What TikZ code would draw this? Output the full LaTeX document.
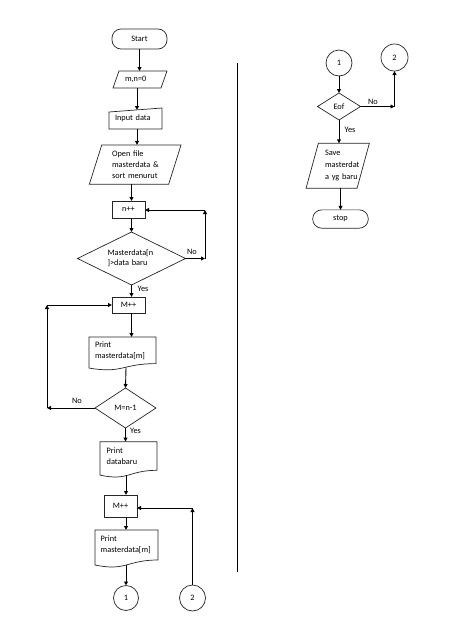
\documentclass[tikz,border=0pt]{standalone}
\usepackage{fontspec}
\setmainfont{Carlito}
\usetikzlibrary{calc,arrows.meta}
\newcommand\fsz{\fontsize{8.3}{11}\selectfont}
\newcommand\ind[1]{\hspace*{#1}}
% outlines drawn around geometry nodes
\newcommand\DocOutline[4]{\draw[shp] ($(#1.south west)+(0,#3)$) -- (#1.north west) -- (#1.north east) -- (#1.south east) .. controls ($(#1.south east)+(-#2/2,0)$) and ($(#1.south west)+(#2/2,#4)$) .. ($(#1.south west)+(0,#3)$) -- cycle;}
\newcommand\ParaOutline[2]{\draw[shp] ($(#1.north west)+(#2,0)$) -- (#1.north east) -- ($(#1.south east)+(-#2,0)$) -- (#1.south west) -- cycle;}
\newcommand\DiaOutline[1]{\draw[shp] (#1.north) -- (#1.east) -- (#1.south) -- (#1.west) -- cycle;}
\tikzset{
  base/.style={font=\fsz, inner sep=0pt, outer sep=0pt},
  shp/.style={line width=0.7pt, draw=black!85},
  geo/.style={base, text width=#1, align=left},
  boxnode/.style={base, shp, draw, rectangle},
  term/.style={base, shp, draw, rectangle, rounded corners=9pt},
  conn/.style={base, shp, draw, circle},
  arr/.style={line width=0.9pt, -{Triangle[length=4pt,width=3.8pt]}},
  lab/.style={base}
}
\begin{document}
\begin{tikzpicture}[x=1pt,y=-1pt]
\useasboundingbox[fill=white] (0,0) rectangle (453,640);
% column coordinates
\coordinate (k1) at (137,0);
\coordinate (k2) at (131.5,0);
\coordinate (k3) at (126,0);
% left column
\node[term, minimum width=55pt, minimum height=20pt] (start) at (139.5,39) {Start};
\node[geo=54pt, minimum height=17pt] (mn) at (140,79.5) {\ind{12pt}m,n=0};
\ParaOutline{mn}{6}
\node[geo=53pt, minimum height=21pt] (inp) at (135.5,118.5) {\ind{6pt}Input data};
\draw[shp] (inp.south west) -- ($(inp.north west)+(0,4)$) -- (inp.north east) -- (inp.south east) -- cycle;
\node[geo=91.7pt, minimum height=39.3pt] (open) at (135.2,164.6) {\ind{22.7pt}Open file\\\ind{22.7pt}masterdata \&\\\ind{22.7pt}sort menurut};
\ParaOutline{open}{12.4}
\node[boxnode, minimum width=33pt, minimum height=17pt] (nn) at (128.5,209.5) {n++};
\node[geo=108pt, minimum height=53pt, font=\fontsize{8.3}{10}\selectfont] (d1) at (131.5,258.5) {\ind{30pt}Masterdata[n\\\ind{30pt}]>data baru};
\DiaOutline{d1}
\node[boxnode, minimum width=33pt, minimum height=16pt] (mp1) at (128.5,305) {M++};
\node[geo=67pt, minimum height=26.6pt] (doc1) at (122.5,350.3) {\ind{6pt}Print\\\ind{6pt}masterdata[m]};
\DocOutline{doc1}{67}{4.45}{10.2}
\node[base, minimum width=61pt, minimum height=40pt] (d2) at (125.5,408) {M=n-1};
\DiaOutline{d2}
\node[geo=57pt, minimum height=28.6pt] (doc2) at (128.5,456) {\ind{6.7pt}Print\\\ind{6.7pt}databaru};
\DocOutline{doc2}{57}{4.8}{11}
\node[boxnode, minimum width=33pt, minimum height=22pt] (mp2) at (120.5,506) {M++};
\node[geo=63pt, minimum height=30pt] (doc3) at (126.5,545) {\ind{5.7pt}Print\\\ind{5.7pt}masterdata[m]};
\DocOutline{doc3}{63}{5}{11.5}
\node[conn, minimum size=25pt] (c1) at (126,598) {1};
\node[conn, minimum size=26pt] (c2) at (192.5,598) {2};
% divider
\draw[line width=0.9pt] (237,63) -- (237,572);
% right column
\node[conn, minimum size=26pt] (r1) at (339,63) {1};
\node[conn, minimum size=27pt] (r2) at (394.5,57.5) {2};
\node[base, minimum width=43pt, minimum height=27pt] (e) at (339,106.5) {Eof};
\DiaOutline{e}
\node[geo=63.3pt, minimum height=45pt, font=\fontsize{8.3}{12}\selectfont] (save) at (337.7,165.8) {\ind{19pt}Save\\\ind{19pt}masterdat\\\ind{19pt}a yg baru};
\ParaOutline{save}{12.3}
\node[term, minimum width=55.6pt, minimum height=18.3pt] (stop) at (340.5,219) {stop};
% labels
\node[lab] (no1) at (192,252) {No};
\node[lab] (yes1) at (143,288.5) {Yes};
\node[lab] (no2) at (77,401) {No};
\node[lab] (yes2) at (135.5,430.5) {Yes};
\node[lab] (no3) at (373,102) {No};
\node[lab] (yes3) at (350,129.5) {Yes};
% connectors left column
\draw[arr] (start.south) -- (start.south |- mn.north);
\draw[arr] (mn.south -| k1) -- ($(inp.north -| k1)+(0,2)$);
\draw[arr] (inp.south -| k1) -- (open.north -| k1);
\draw[arr] (open.south -| k2) -- (nn.north -| k2);
\draw[arr] (nn.south -| k2) -- (d1.north);
\draw[arr] (d1.south) -- (d1.south |- mp1.north);
\draw[arr] (mp1.south -| k2) -- (doc1.north -| k2);
\draw[arr] ($(doc1.south -| k3)+(0,4)$) -- (d2.north);
\draw[arr] (d2.south) -- (d2.south |- doc2.north);
\draw[arr] ($(doc2.south -| k3)+(0,4.8)$) -- (mp2.north -| k3);
\draw[arr] (mp2.south -| k3) -- (doc3.north -| k3);
\draw[arr] ($(doc3.south -| k3)+(0,4.9)$) -- (c1.north);
% loop n++
\coordinate (R1) at (205,210);
\draw[arr] (d1.east) -- (d1.east -| R1);
\draw[arr] (d1.east -| R1) -- (R1);
\draw[arr] (R1) -- (R1 -| nn.east);
% loop M=n-1
\coordinate (L1) at (47,305);
\draw[arr] (d2.west) -- (d2.west -| L1);
\draw[arr] (d2.west -| L1) -- (L1);
\draw[arr] (L1) -- (mp1.west);
% loop connector 2
\coordinate (R2) at (192.5,508);
\draw[arr] (c2.north) -- (R2);
\draw[arr] (R2) -- (R2 -| mp2.east);
% right column connectors
\draw[arr] (r1.south) -- (e.north);
\draw[arr] (e.south) -- (e.south |- save.north);
\draw[arr] (save.south -| stop.north) -- (stop.north);
\draw[arr] (e.east) -- (e.east -| r2.south);
\draw[arr] (e.east -| r2.south) -- (r2.south);
\end{tikzpicture}
\end{document}
